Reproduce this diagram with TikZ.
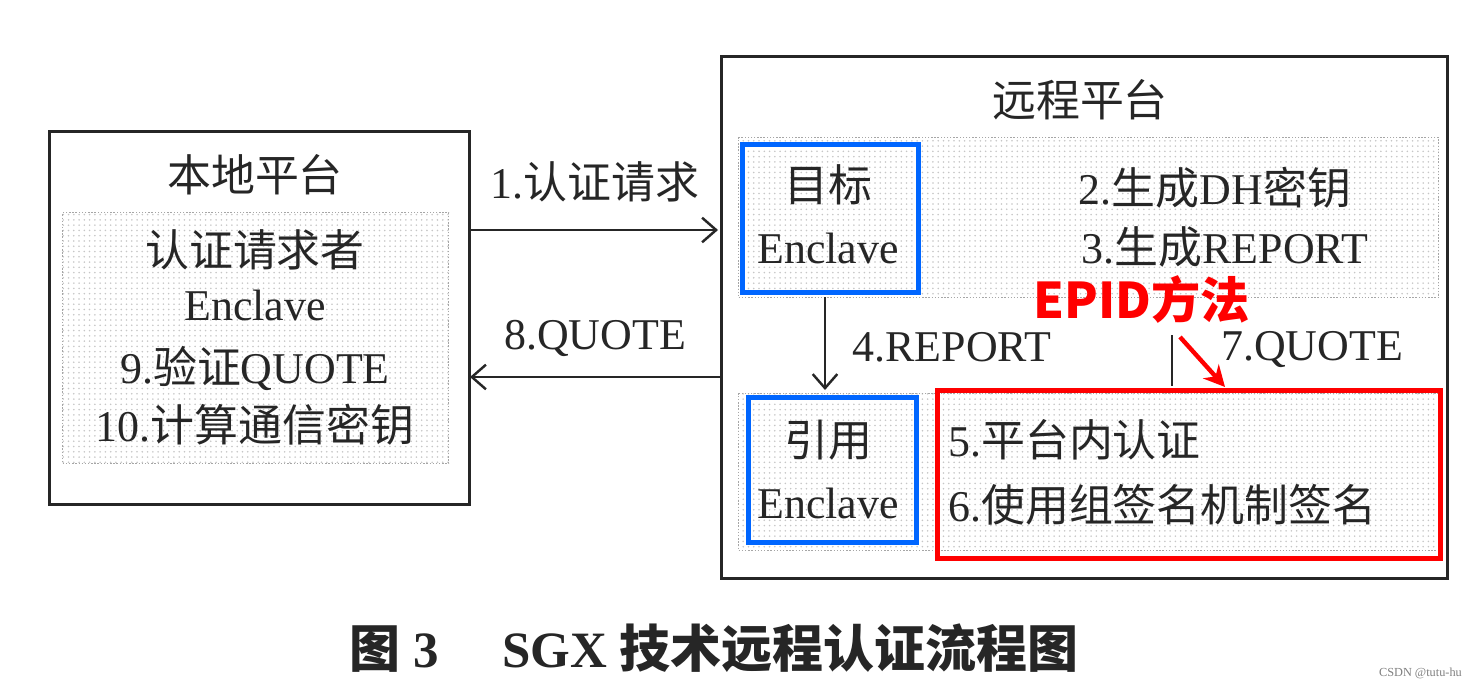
\documentclass[tikz,border=0pt]{standalone}
\usepackage{fontspec}
\setmainfont{Liberation Serif}
\newfontfamily\cjk{Noto Sans CJK SC}
\newfontfamily\cjkb{Noto Sans CJK SC Bold}
\usetikzlibrary{patterns,arrows.meta}
\newcommand\zh[1]{{\cjk #1}}
\begin{document}
\begin{tikzpicture}[x=0.02cm,y=-0.02cm,
  box/.style={draw=black!85,line width=1.6pt},
  dotreg/.style={draw=gray!70,densely dotted,line width=0.8pt,pattern=dots,pattern color=gray!45},
  blue/.style={draw=blue!60!cyan,line width=3pt},
  redb/.style={draw=red,line width=3pt},
  txt/.style={font=\fontsize{25}{28}\selectfont,text=black!85},
  arr/.style={-{Straight Barb[length=8pt,width=14pt,line width=1.4pt]},line width=1.4pt,black!85}]
\useasboundingbox (0,0) rectangle (1473,689);
\fill[white] (0,0) rectangle (1473,689);
% local platform
\node[box,minimum width=420*0.02cm,minimum height=373*0.02cm,anchor=north west] (local) at (48,130) {};
\node[dotreg,minimum width=386*0.02cm,minimum height=251*0.02cm,anchor=north west] (ldot) at (62,212) {};
\node[txt] (lt) at (255,175) {\zh{本地平台}};
\node[txt] (l1) at (255,250) {\zh{认证请求者}};
\node[txt] (l2) at (255,305) {Enclave};
\node[txt] (l3) at (255,368) {9.\zh{验证}QUOTE};
\node[txt] (l4) at (255,425) {10.\zh{计算通信密钥}};
% remote platform
\node[box,minimum width=726*0.02cm,minimum height=522*0.02cm,anchor=north west] (remote) at (720,55) {};
\node[txt] (rt) at (1080,100) {\zh{远程平台}};
\node[dotreg,minimum width=700*0.02cm,minimum height=160*0.02cm,anchor=north west] (udot) at (738,137) {};
\node[dotreg,minimum width=700*0.02cm,minimum height=157*0.02cm,anchor=north west] (bdot) at (738,393) {};
\node[blue,minimum width=176*0.02cm,minimum height=148*0.02cm,anchor=north west] (target) at (740,142) {};
\node[txt] (t1) at (828,185) {\zh{目标}};
\node[txt] (t2) at (828,248) {Enclave};
\node[txt] (u1) at (1215,188) {2.\zh{生成}DH\zh{密钥}};
\node[txt] (u2) at (1225,247) {3.\zh{生成}REPORT};
\node[blue,minimum width=168*0.02cm,minimum height=145*0.02cm,anchor=north west] (quote) at (746,395) {};
\node[txt] (q1) at (828,440) {\zh{引用}};
\node[txt] (q2) at (828,503) {Enclave};
\node[redb,minimum width=503*0.02cm,minimum height=168*0.02cm,anchor=north west] (epid) at (935,388) {};
\node[txt,anchor=west] (e1) at (942,440) {5.\zh{平台内认证}};
\node[txt,anchor=west] (e2) at (942,505) {6.\zh{使用组签名机制签名}};
% arrows
\coordinate (a1s) at (468,230); \coordinate (a1e) at (718,230);
\draw[arr] (a1s) -- (a1e);
\node[txt] (a1l) at (595,182) {1.\zh{认证请求}};
\coordinate (a8s) at (720,377); \coordinate (a8e) at (470,377);
\draw[arr] (a8s) -- (a8e);
\node[txt] (a8l) at (595,338) {8.QUOTE};
\coordinate (a4s) at (825,297); \coordinate (a4e) at (825,390);
\draw[arr] (a4s) -- (a4e);
\node[txt] (a4l) at (952,347) {4.REPORT};
\coordinate (a7s) at (1172,335); \coordinate (a7e) at (1172,386);
\draw[line width=1.4pt,black!85] (a7s) -- (a7e);
\node[txt] (a7l) at (1312,350) {7.QUOTE};
% EPID annotation
\node[text=red,font=\fontsize{28}{32}\selectfont\bfseries\cjkb] (epl) at (1142,300) {EPID方法};
\coordinate (ep1) at (1180,337); \coordinate (ep2) at (1225,387);
\draw[red,line width=2.5pt,-{Stealth[length=12pt,width=12pt]}] (ep1) -- (ep2);
% caption
\node[font=\fontsize{29}{32}\selectfont\bfseries,text=black!85] (cap) at (714,648) {{\cjkb 图} 3\quad\ SGX {\cjkb 技术远程认证流程图}};
\node[font=\fontsize{7}{8}\selectfont,text=gray,anchor=east] (csdn) at (1468,673) {CSDN @tutu-hu};
\end{tikzpicture}
\end{document}
